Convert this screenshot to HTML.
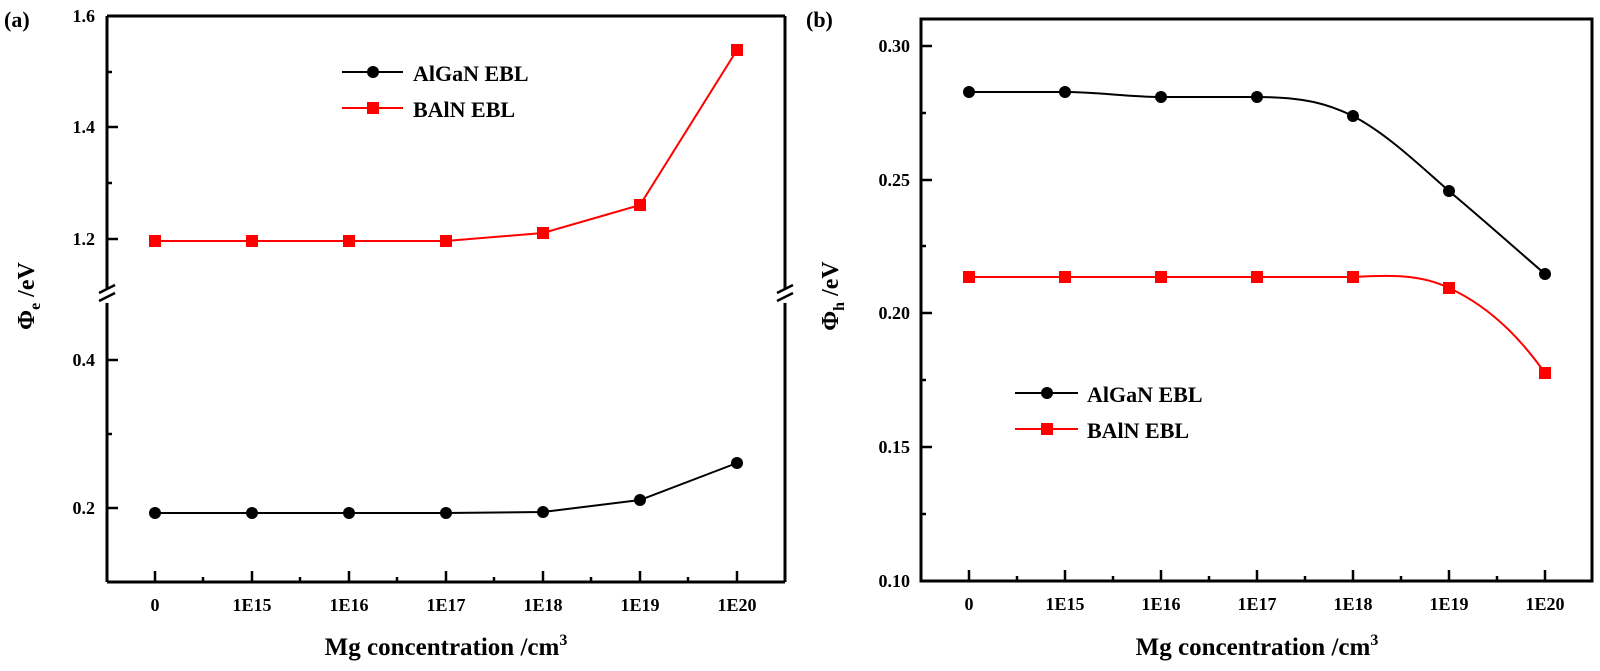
<!DOCTYPE html>
<html><head><meta charset="utf-8"><style>
html,body{margin:0;padding:0;background:#fff;}
svg{display:block;font-family:"Liberation Serif",serif;font-weight:bold;}
</style></head><body>
<svg width="1600" height="671" viewBox="0 0 1600 671" xmlns="http://www.w3.org/2000/svg">
<!-- Panel a -->
<text x="4" y="27" font-size="22">(a)</text>
<g stroke="#000" stroke-width="3" fill="none">
<line x1="107" y1="16" x2="785" y2="16"/>
<line x1="107" y1="582" x2="785" y2="582"/>
<line x1="107" y1="16" x2="107" y2="289"/>
<line x1="107" y1="303" x2="107" y2="582"/>
<line x1="785" y1="16" x2="785" y2="289"/>
<line x1="785" y1="303" x2="785" y2="582"/>
<line x1="99" y1="293" x2="115" y2="285" stroke-width="2.5"/>
<line x1="99" y1="301" x2="115" y2="293" stroke-width="2.5"/>
<line x1="777" y1="293" x2="793" y2="285" stroke-width="2.5"/>
<line x1="777" y1="301" x2="793" y2="293" stroke-width="2.5"/>
</g>
<g stroke="#000" stroke-width="2.5">
<line x1="107" y1="127" x2="118" y2="127"/><line x1="107" y1="239" x2="118" y2="239"/>
<line x1="107" y1="72" x2="112" y2="72"/><line x1="107" y1="183" x2="112" y2="183"/>
<line x1="107" y1="360" x2="118" y2="360"/><line x1="107" y1="508" x2="118" y2="508"/>
<line x1="107" y1="434" x2="112" y2="434"/>
<line x1="155" y1="582" x2="155" y2="571"/><line x1="252" y1="582" x2="252" y2="571"/>
<line x1="349" y1="582" x2="349" y2="571"/><line x1="446" y1="582" x2="446" y2="571"/>
<line x1="543" y1="582" x2="543" y2="571"/><line x1="640" y1="582" x2="640" y2="571"/>
<line x1="737" y1="582" x2="737" y2="571"/>
<line x1="203" y1="582" x2="203" y2="577"/><line x1="300" y1="582" x2="300" y2="577"/>
<line x1="397" y1="582" x2="397" y2="577"/><line x1="494" y1="582" x2="494" y2="577"/>
<line x1="591" y1="582" x2="591" y2="577"/><line x1="688" y1="582" x2="688" y2="577"/>
</g>
<g font-size="18" text-anchor="end">
<text x="95" y="22">1.6</text><text x="95" y="133">1.4</text><text x="95" y="245">1.2</text>
<text x="95" y="366">0.4</text><text x="95" y="514">0.2</text>
</g>
<g font-size="18" text-anchor="middle">
<text x="155" y="611">0</text><text x="252" y="611">1E15</text><text x="349" y="611">1E16</text>
<text x="446" y="611">1E17</text><text x="543" y="611">1E18</text><text x="640" y="611">1E19</text><text x="737" y="611">1E20</text>
</g>
<text x="446" y="655" font-size="25" text-anchor="middle">Mg concentration /cm<tspan font-size="16" dy="-10">3</tspan></text>
<text transform="translate(34,296) rotate(-90)" font-size="24" text-anchor="middle">Φ<tspan font-size="16" dy="6">e</tspan><tspan dy="-6"> /eV</tspan></text>
<polyline points="155,241 446,241 543,233 640,205 737,50" fill="none" stroke="#f00" stroke-width="2"/>
<g fill="#f00">
<rect x="149" y="235" width="12" height="12"/><rect x="246" y="235" width="12" height="12"/>
<rect x="343" y="235" width="12" height="12"/><rect x="440" y="235" width="12" height="12"/>
<rect x="537" y="227" width="12" height="12"/><rect x="634" y="199" width="12" height="12"/>
<rect x="731" y="44" width="12" height="12"/>
</g>
<polyline points="155,513 446,513 543,512 640,500 737,463" fill="none" stroke="#000" stroke-width="2"/>
<g fill="#000">
<circle cx="155" cy="513" r="6"/><circle cx="252" cy="513" r="6"/><circle cx="349" cy="513" r="6"/>
<circle cx="446" cy="513" r="6"/><circle cx="543" cy="512" r="6"/><circle cx="640" cy="500" r="6"/>
<circle cx="737" cy="463" r="6"/>
</g>
<line x1="342" y1="72" x2="403" y2="72" stroke="#000" stroke-width="2"/><circle cx="373" cy="72" r="6"/>
<line x1="342" y1="108" x2="403" y2="108" stroke="#f00" stroke-width="2"/><rect x="367" y="102" width="12" height="12" fill="#f00"/>
<text x="413" y="81" font-size="22">AlGaN EBL</text>
<text x="413" y="117" font-size="22">BAlN EBL</text>

<!-- Panel b -->
<text x="806" y="27" font-size="22">(b)</text>
<rect x="921" y="19" width="671" height="562" fill="none" stroke="#000" stroke-width="3"/>
<g stroke="#000" stroke-width="2.5">
<line x1="921" y1="46" x2="932" y2="46"/><line x1="921" y1="180" x2="932" y2="180"/>
<line x1="921" y1="313" x2="932" y2="313"/><line x1="921" y1="447" x2="932" y2="447"/>
<line x1="921" y1="113" x2="926" y2="113"/><line x1="921" y1="246" x2="926" y2="246"/>
<line x1="921" y1="380" x2="926" y2="380"/><line x1="921" y1="514" x2="926" y2="514"/>
<line x1="969" y1="581" x2="969" y2="570"/><line x1="1065" y1="581" x2="1065" y2="570"/>
<line x1="1161" y1="581" x2="1161" y2="570"/><line x1="1257" y1="581" x2="1257" y2="570"/>
<line x1="1353" y1="581" x2="1353" y2="570"/><line x1="1449" y1="581" x2="1449" y2="570"/>
<line x1="1545" y1="581" x2="1545" y2="570"/>
<line x1="1017" y1="581" x2="1017" y2="576"/><line x1="1113" y1="581" x2="1113" y2="576"/>
<line x1="1209" y1="581" x2="1209" y2="576"/><line x1="1305" y1="581" x2="1305" y2="576"/>
<line x1="1401" y1="581" x2="1401" y2="576"/><line x1="1497" y1="581" x2="1497" y2="576"/>
</g>
<g font-size="18" text-anchor="end">
<text x="910" y="52">0.30</text><text x="910" y="186">0.25</text><text x="910" y="319">0.20</text>
<text x="910" y="453">0.15</text><text x="910" y="587">0.10</text>
</g>
<g font-size="18" text-anchor="middle">
<text x="969" y="610">0</text><text x="1065" y="610">1E15</text><text x="1161" y="610">1E16</text>
<text x="1257" y="610">1E17</text><text x="1353" y="610">1E18</text><text x="1449" y="610">1E19</text><text x="1545" y="610">1E20</text>
</g>
<text x="1257" y="655" font-size="25" text-anchor="middle">Mg concentration /cm<tspan font-size="16" dy="-10">3</tspan></text>
<text transform="translate(838,296) rotate(-90)" font-size="24" text-anchor="middle">Φ<tspan font-size="16" dy="6">h</tspan><tspan dy="-6"> /eV</tspan></text>
<path d="M969,92 L1065,92 C1098,92 1128,97 1161,97 L1257,97 C1305,97 1328,104 1353,116 C1387,134 1417,163 1449,191 C1487,223 1516,249 1545,274" fill="none" stroke="#000" stroke-width="2"/>
<path d="M969,277 L1353,277 C1390,275 1420,274 1449,288 C1497,310 1527,348 1545,373" fill="none" stroke="#f00" stroke-width="2"/>
<g fill="#000">
<circle cx="969" cy="92" r="6"/><circle cx="1065" cy="92" r="6"/><circle cx="1161" cy="97" r="6"/>
<circle cx="1257" cy="97" r="6"/><circle cx="1353" cy="116" r="6"/><circle cx="1449" cy="191" r="6"/>
<circle cx="1545" cy="274" r="6"/>
</g>
<g fill="#f00">
<rect x="963" y="271" width="12" height="12"/><rect x="1059" y="271" width="12" height="12"/>
<rect x="1155" y="271" width="12" height="12"/><rect x="1251" y="271" width="12" height="12"/>
<rect x="1347" y="271" width="12" height="12"/><rect x="1443" y="282" width="12" height="12"/>
<rect x="1539" y="367" width="12" height="12"/>
</g>
<line x1="1015" y1="393" x2="1078" y2="393" stroke="#000" stroke-width="2"/><circle cx="1047" cy="393" r="6"/>
<line x1="1015" y1="429" x2="1078" y2="429" stroke="#f00" stroke-width="2"/><rect x="1041" y="423" width="12" height="12" fill="#f00"/>
<text x="1087" y="402" font-size="22">AlGaN EBL</text>
<text x="1087" y="438" font-size="22">BAlN EBL</text>
</svg>
</body></html>
